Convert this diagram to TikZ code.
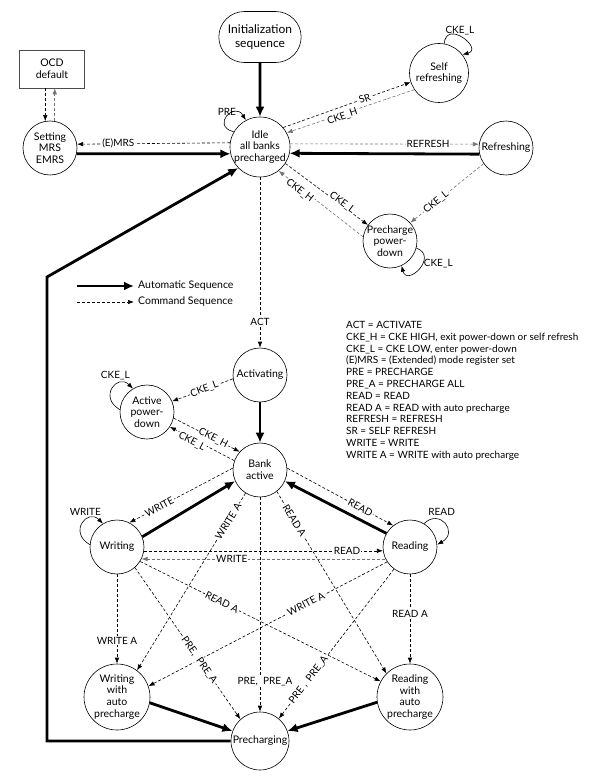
\documentclass[tikz,border=0pt]{standalone}
\usepackage{fontspec}
\setmainfont{Lato}
\usetikzlibrary{shapes,positioning,arrows.meta}

\begin{document}
\begin{tikzpicture}[x=1pt, y=1pt,
    st/.style={circle, draw, line width=0.6pt, inner sep=-4pt, minimum size=54pt,
      align=center, font=\fontsize{10.5}{11.8}\selectfont},
    autoseq/.style={line width=2.8pt, -{Latex[length=10pt,width=9pt]}},
    cmdseq/.style={line width=0.6pt, dash pattern=on 3pt off 2pt, -{Latex[length=6pt,width=4.5pt]}},
    selfloop/.style={line width=0.6pt, -{Latex[length=6pt,width=4.5pt]}},
    faint/.style={draw=black!55},
    lbl/.style={fill=white, inner sep=1pt, font=\fontsize{10}{11}\selectfont},
    tag/.style={inner sep=1pt, font=\fontsize{10}{11}\selectfont}]

  \useasboundingbox (0,0) rectangle (599,-781);

  \node[rounded rectangle, draw, line width=0.6pt, minimum width=89pt, minimum height=51pt,
        align=center, font=\fontsize{12}{14}\selectfont] (Init) at (260,-37) {Initialization\\sequence};
  \node[draw=black!70, line width=0.6pt, minimum width=65pt, minimum height=38pt,
        align=center, font=\fontsize{10.5}{12}\selectfont] (OCD) at (52,-69) {OCD\\default};

  \node[st] (MRS) at (50,-148) {Setting\\MRS\\EMRS};
  \node[st, minimum size=60pt] (Idle) at (260,-147) {Idle\\all banks\\precharged};
  \node[st, minimum size=59pt] (SRf) at (439,-73) {Self\\refreshing};
  \node[st] (Ref) at (506,-148) {Refreshing};
  \node[st] (PPD) at (390,-241) {Precharge\\power-\\down};
  \node[st] (Act) at (260,-375) {Activating};
  \node[st] (APD) at (147,-412) {Active\\power-\\down};
  \node[st] (BA) at (260,-470) {Bank\\active};
  \node[st] (Wr) at (117,-547) {Writing};
  \node[st] (Rd) at (410,-547) {Reading};
  \node[st, minimum size=66pt] (WrA) at (117,-697) {Writing\\with\\auto\\precharge};
  \node[st, minimum size=66pt] (RdA) at (410,-697) {Reading\\with\\auto\\precharge};
  \node[st, minimum size=58pt] (Pre) at (260,-741) {Precharging};

  \coordinate (LoopB) at (47,-741);
  \coordinate (LoopT) at (47,-277);

  \coordinate (LA) at (77,-286);
  \coordinate (LC) at (77,-302);
  \node[anchor=west, inner sep=4pt, font=\fontsize{10.5}{12}\selectfont] (LAt) at (134,-286) {Automatic Sequence};
  \node[anchor=west, inner sep=4pt, font=\fontsize{10.5}{12}\selectfont] (LCt) at (134,-302) {Command Sequence};
  \draw[autoseq] (LA) -- (LAt.west);
  \draw[cmdseq] (LC) -- (LCt.west);

  \node[anchor=north west, inner sep=0pt, align=left, font=\fontsize{10}{11.8}\selectfont] (Abbr) at (346,-321) {
    ACT = ACTIVATE\\
    CKE\_H = CKE HIGH, exit power-down or self refresh\\
    CKE\_L = CKE LOW, enter power-down\\
    (E)MRS = (Extended) mode register set\\
    PRE = PRECHARGE\\
    PRE\_A = PRECHARGE ALL\\
    READ = READ\\
    READ A = READ with auto precharge\\
    REFRESH = REFRESH\\
    SR = SELF REFRESH\\
    WRITE = WRITE\\
    WRITE A = WRITE with auto precharge};

  \draw[autoseq] (Init) -- (Idle);
  \draw[cmdseq] (MRS.100 |- OCD.south) -- (MRS.100);
  \draw[cmdseq, faint] (MRS.80) -- (MRS.80 |- OCD.south);
  \draw[cmdseq] (Idle.172) -- node[lbl, pos=.73] {(E)MRS} (MRS.8);
  \draw[autoseq] (MRS.-12) -- (Idle.193);
  \draw[selfloop] (Idle.150) .. controls +(165:24) and +(120:22) .. node[tag, above] {PRE} (Idle.118);

  \draw[cmdseq] (Idle.40) -- node[lbl, sloped, pos=.64] {SR} (SRf.198);
  \draw[cmdseq, faint] (SRf.214) -- node[lbl, sloped, pos=.57, below=-3pt] {CKE\_H} (Idle.28);
  \draw[selfloop] (SRf.80) .. controls +(85:25) and +(15:22) .. node[tag, above, pos=.45] {CKE\_L} (SRf.38);
  \draw[cmdseq, faint] (Idle.6) -- node[lbl, pos=.73] {REFRESH} (Ref.172);
  \draw[autoseq] (Ref.193) -- (Idle.-12);
  \draw[cmdseq] (Idle.-33) -- node[lbl, sloped, pos=.67, above=-3pt] {CKE\_L} (PPD.144);
  \draw[cmdseq, faint] (PPD.171) -- node[lbl, sloped, pos=.73, below=-3pt] {CKE\_H} (Idle.-52);
  \draw[cmdseq, faint] (Ref.215) -- node[lbl, sloped, pos=.65] {CKE\_L} (PPD.42);
  \draw[selfloop] (PPD.-15) .. controls +(-20:24) and +(-75:22) .. node[tag, right, pos=.4] {CKE\_L} (PPD.-65);

  \draw[cmdseq] (Idle) -- node[lbl, pos=.85] {ACT} (Act);
  \draw[autoseq] (Act) -- (BA);
  \draw[cmdseq] (Act.188) -- node[lbl, sloped, pos=.47] {CKE\_L} (APD.23);
  \draw[cmdseq] (APD.-13) -- node[lbl, sloped, pos=.6] {CKE\_H} (BA.138);
  \draw[cmdseq] (BA.160) -- node[lbl, sloped, pos=.64, below=-3pt] {CKE\_L} (APD.-33);
  \draw[selfloop] (APD.175) .. controls +(150:25) and +(135:22) .. node[tag, above=4pt, pos=.6] {CKE\_L} (APD.121);

  \draw[cmdseq] (BA.176) -- node[lbl, sloped, pos=.71] {WRITE} (Wr.63);
  \draw[autoseq] (Wr.22) -- (BA.204);
  \draw[cmdseq] (BA.4) -- node[lbl, sloped, pos=.69] {READ} (Rd.128);
  \draw[autoseq] (Rd.150) -- (BA.-24);
  \draw[selfloop] (Wr.175) .. controls +(150:25) and +(135:22) .. node[tag, above=4pt, pos=.6] {WRITE} (Wr.121);
  \draw[selfloop] (Rd.59) .. controls +(45:22) and +(30:25) .. node[tag, above=4pt, pos=.4] {READ} (Rd.5);
  \draw[cmdseq] (Wr.-8) -- node[lbl, pos=.85] {READ} (Rd.188);
  \draw[cmdseq, faint] (Rd.206) -- node[lbl, pos=.63] {WRITE} (Wr.-26);

  \draw[cmdseq] (Wr) -- node[lbl, pos=.74] {WRITE A} (WrA);
  \draw[cmdseq] (Rd) -- node[lbl, pos=.44] {READ A} (RdA);
  \draw[cmdseq] (BA.238) -- node[lbl, sloped, pos=.16] {WRITE A} (WrA.53);
  \draw[cmdseq] (BA.308) -- node[lbl, sloped, pos=.16] {READ A} (RdA.135);
  \draw[cmdseq] (BA) -- node[lbl, pos=.86, xshift=5pt] {PRE,\ \ PRE\_A} (Pre);
  \draw[cmdseq] (Wr.-32) -- node[lbl, sloped, pos=.34] {READ A} (RdA.152);
  \draw[cmdseq] (Rd.213) -- node[lbl, sloped, pos=.34] {WRITE A} (WrA.19);
  \draw[cmdseq] (Wr.-49) -- node[lbl, sloped, pos=.61] {PRE,\ \ PRE\_A} (Pre.132);
  \draw[cmdseq] (Rd.234) -- node[lbl, sloped, pos=.74] {PRE\ ,\ \ PRE\_A} (Pre.50);

  \draw[autoseq] (WrA.-10) -- (Pre.160);
  \draw[autoseq] (RdA.189) -- (Pre.20);
  \draw[autoseq] (Pre.west) -- (LoopB) -- (LoopT) -- (Idle.224);

\end{tikzpicture}
\end{document}
